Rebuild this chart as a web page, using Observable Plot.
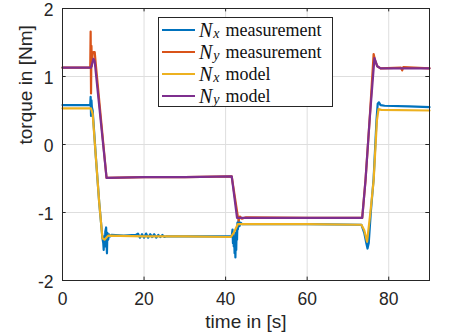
<!DOCTYPE html>
<html>
<head>
<meta charset="utf-8">
<script src="https://cdn.jsdelivr.net/npm/d3@7"></script>
<script src="https://cdn.jsdelivr.net/npm/@observablehq/plot@0.6"></script>
<style>
  html, body { margin: 0; padding: 0; background: #fff; }
  #wrap { position: relative; width: 474px; height: 336px; }
  #legend {
    position: absolute; left: 158px; top: 17px; width: 175px; height: 90px;
    box-sizing: border-box; border: 1px solid #262626; background: #fff;
    font-family: "Liberation Serif", "DejaVu Serif", serif; font-size: 18px; color: #111;
  }
  .row { position: absolute; left: 0; height: 22px; display: flex; align-items: center; white-space: nowrap; }
  .sw { width: 33px; height: 2px; margin-left: 3px; margin-right: 4px; }
  .n { font-style: italic; font-size: 20px; }
  .sub { font-style: italic; font-size: 14px; position: relative; top: 4px; margin-left: 1px; margin-right: 6px; }
</style>
</head>
<body>
<div id="wrap"></div>
<script>
// ---- data ----
const seriesNames = ["Nx measurement", "Ny measurement", "Nx model", "Ny model"];
const seriesColors = ["#0072BD", "#D95319", "#EDB120", "#7E2F8E"];
const xTicks = [0, 20, 40, 60, 80];
const yTicks = [-2, -1, 0, 1, 2];

const nxMeasT = [0, 6.8, 6.9, 7.0, 7.1, 7.2, 7.4, 8.2, 9.0, 9.8, 10.0, 10.1, 10.2, 10.4, 10.5, 10.7, 10.8, 10.9, 11.0, 11.2, 11.4, 11.7, 12, 15, 18, 18.5, 19, 19.5, 20, 20.5, 21, 21.5, 22, 22.5, 23, 23.5, 24, 24.5, 25, 25.5, 30, 35, 41.5, 41.7, 41.8, 41.9, 42.0, 42.1, 42.2, 42.3, 42.4, 42.5, 42.6, 42.7, 42.8, 42.9, 43.0, 43.2, 43.4, 43.7, 44, 50, 60, 73.3, 74.0, 74.5, 74.8, 75.1, 75.6, 76.3, 77.0, 77.3, 77.6, 78.0, 79, 85, 90];
const nxMeasV = [0.58, 0.58, 0.70, 0.42, 0.65, 0.55, 0.50, -0.20, -0.85, -1.38, -1.45, -1.55, -1.35, -1.50, -1.28, -1.22, -1.45, -1.60, -1.30, -1.40, -1.32, -1.35, -1.33, -1.34, -1.33, -1.31, -1.37, -1.32, -1.37, -1.31, -1.37, -1.32, -1.36, -1.32, -1.37, -1.33, -1.36, -1.33, -1.36, -1.35, -1.35, -1.35, -1.35, -1.25, -1.45, -1.30, -1.50, -1.35, -1.60, -1.40, -1.66, -1.30, -1.55, -1.25, -1.40, -1.15, -1.25, -1.12, -1.20, -1.15, -1.17, -1.17, -1.17, -1.18, -1.30, -1.45, -1.53, -1.45, -1.00, -0.50, 0.35, 0.60, 0.62, 0.58, 0.57, 0.56, 0.55];

const nyMeasT = [0, 6.8, 6.9, 7.0, 7.1, 7.2, 7.4, 7.6, 7.9, 8.1, 10.8, 20, 30, 41.5, 43.0, 43.2, 43.5, 44, 45, 60, 73.5, 74.3, 75.3, 76.3, 76.6, 77.2, 78, 83, 83.3, 83.6, 90];
const nyMeasV = [1.13, 1.13, 1.66, 0.75, 1.45, 1.15, 1.35, 1.36, 1.36, 1.22, -0.49, -0.48, -0.48, -0.47, -1.06, -1.12, -1.06, -1.09, -1.07, -1.08, -1.08, -0.53, 0.35, 1.33, 1.25, 1.15, 1.12, 1.13, 1.09, 1.14, 1.12];

const nxModelT = [0, 7.0, 7.4, 8.2, 9.0, 9.8, 10.3, 11.2, 20, 30, 41.3, 42.0, 43.0, 50, 60, 73.3, 74.0, 74.7, 75.5, 76.3, 77.1, 77.5, 78.2, 90];
const nxModelV = [0.53, 0.53, 0.45, -0.20, -0.85, -1.38, -1.40, -1.34, -1.35, -1.35, -1.36, -1.30, -1.17, -1.17, -1.17, -1.18, -1.26, -1.43, -1.00, -0.53, 0.35, 0.52, 0.51, 0.50];

const nyModelT = [0, 7.0, 7.6, 7.9, 10.8, 20, 30, 41.5, 42.8, 50, 60, 73.5, 74.3, 75.3, 76.5, 77.2, 78.0, 90];
const nyModelV = [1.13, 1.13, 1.26, 1.22, -0.49, -0.48, -0.48, -0.47, -1.08, -1.08, -1.08, -1.08, -0.53, 0.35, 1.27, 1.15, 1.12, 1.12];

// ---- build ----
const toRows = (T, V) => T.map((t, i) => ({t, v: V[i]}));
const series = [
  toRows(nxMeasT, nxMeasV),
  toRows(nyMeasT, nyMeasV),
  toRows(nxModelT, nxModelV),
  toRows(nyModelT, nyModelV)
];

const ink = "#262626";
const chart = Plot.plot({
  width: 474, height: 336,
  marginLeft: 62, marginRight: 45, marginTop: 8, marginBottom: 56,
  style: {fontFamily: "'Liberation Sans', Arial, sans-serif", fontSize: "17.5px", background: "#fff", color: ink},
  x: {domain: [0, 90]},
  y: {domain: [-2, 2]},
  marks: [
    Plot.gridX(xTicks.filter(d => d > 0), {stroke: "#dedede", strokeOpacity: 1}),
    Plot.gridY(yTicks.filter(d => d > -2 && d < 2), {stroke: "#dedede", strokeOpacity: 1}),
    ...series.map((s, i) => Plot.line(s, {x: "t", y: "v", stroke: seriesColors[i], strokeWidth: 2.2})),
    Plot.ruleX(xTicks, {y1: -2, y2: -1.95, stroke: ink}),
    Plot.ruleX(xTicks, {y1: 1.95, y2: 2, stroke: ink}),
    Plot.ruleY(yTicks, {x1: 0, x2: 0.9, stroke: ink}),
    Plot.ruleY(yTicks, {x1: 89.1, x2: 90, stroke: ink}),
    Plot.frame({stroke: ink}),
    Plot.axisX(xTicks, {tickSize: 0, tickPadding: 12, label: null, fill: ink, tickFormat: d => String(d)}),
    Plot.axisY(yTicks, {tickSize: 0, tickPadding: 9, dy: 2, label: null, fill: ink, tickFormat: d => String(d)}),
    Plot.text(["time in [s]"], {frameAnchor: "bottom", dy: 47, fontSize: 19, fill: ink}),
    Plot.text(["torque in [Nm]"], {frameAnchor: "left", dx: -37, rotate: -90, fontSize: 19, fill: ink})
  ]
});
const wrap = document.getElementById("wrap");
wrap.appendChild(chart);

// legend
const legend = document.createElement("div");
legend.id = "legend";
const subs = ["x", "y", "x", "y"];
const words = ["measurement", "measurement", "model", "model"];
seriesNames.forEach((name, i) => {
  const row = document.createElement("div");
  row.className = "row";
  row.style.top = (1 + i * 22) + "px";
  row.innerHTML = `<span class="sw" style="background:${seriesColors[i]}"></span><span class="n">N</span><span class="sub">${subs[i]}</span><span>${words[i]}</span>`;
  legend.appendChild(row);
});
wrap.appendChild(legend);
</script>
</body>
</html>
